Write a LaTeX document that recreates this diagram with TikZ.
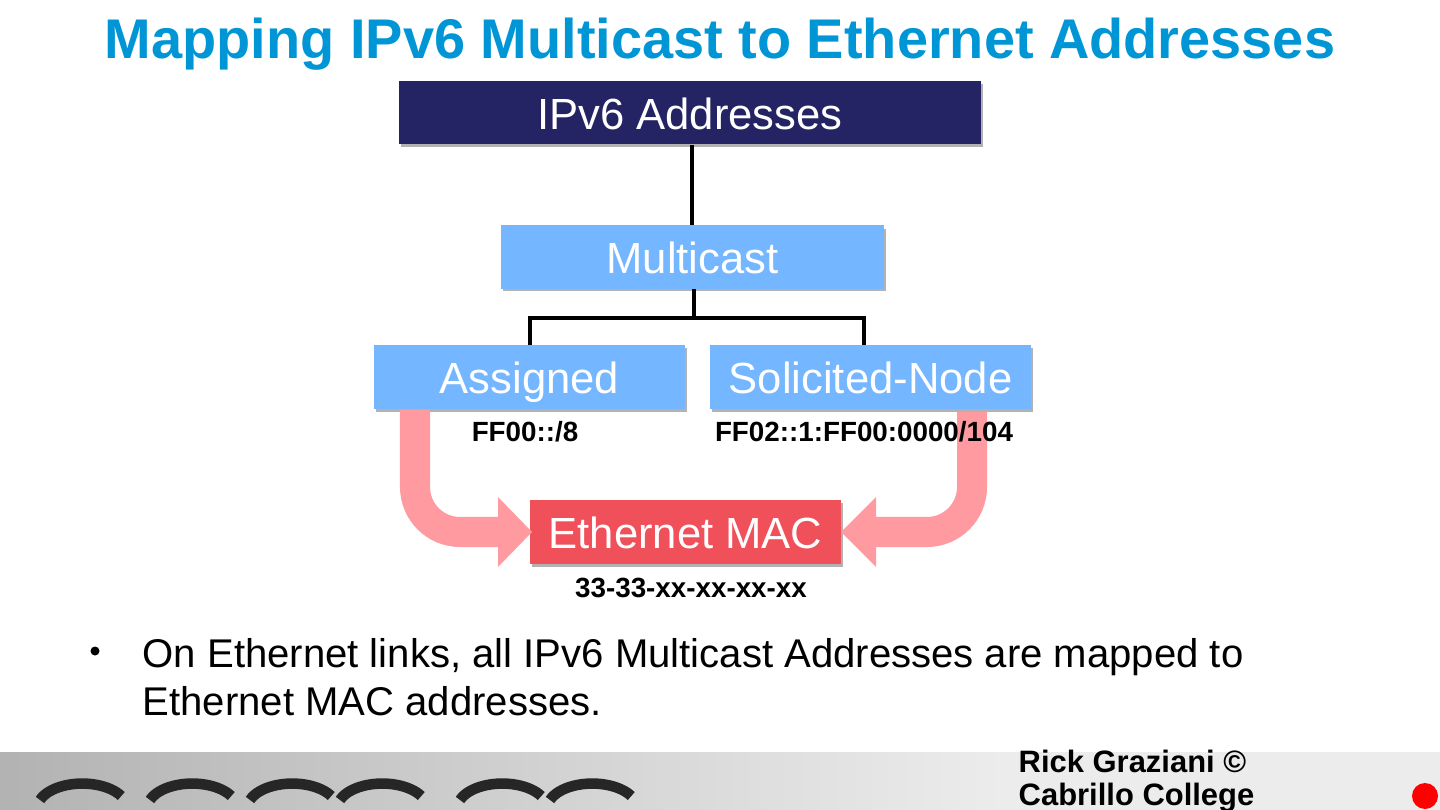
\documentclass[tikz,border=0pt]{standalone}
\usepackage{fontspec}
\setmainfont{Liberation Sans}
\definecolor{ttl}{RGB}{0,150,214}
\definecolor{navy}{RGB}{36,36,100}
\definecolor{lblue}{RGB}{116,182,255}
\definecolor{macred}{RGB}{240,80,90}
\definecolor{pinkarr}{RGB}{255,155,160}
\tikzset{
 box/.style={draw=none,minimum height=0.63cm,text=white,font=\fontsize{12.4}{14}\selectfont,inner sep=0pt,text height=10.6pt,text depth=1.2pt},
 lbl/.style={font=\bfseries\fontsize{7.9}{9}\selectfont},
 conn/.style={line width=1.2pt,black},
 band/.style={line width=0.3cm,pinkarr,rounded corners=0.45cm}
}
\begin{document}
\begin{tikzpicture}[x=0.01cm,y=-0.01cm]
\useasboundingbox (0,0) rectangle (1440,810);
\node[font=\bfseries\fontsize{15.9}{18}\selectfont,text=ttl] (title) at (720,44) {Mapping IPv6 Multicast to Ethernet Addresses};
% shadows
\fill[gray!60] (401,84) rectangle (983,147);
\fill[gray!60] (503,229) rectangle (886,291);
\fill[gray!60] (376,348) rectangle (687,412);
\fill[gray!60] (712,348) rectangle (1033,412);
\fill[gray!60] (532,503) rectangle (843,567);
\node[box,fill=navy,minimum width=5.82cm] (ipv6) at (690,112.5) {IPv6 Addresses};
\node[box,fill=lblue,minimum width=3.83cm] (mc) at (692.5,257) {Multicast};
\node[box,fill=lblue,minimum width=3.11cm] (as) at (529.5,377) {Assigned};
\node[box,fill=lblue,minimum width=3.21cm] (sn) at (870.5,377) {Solicited-Node};
\node[box,fill=macred,minimum width=3.11cm] (mac) at (685.5,532) {Ethernet MAC};
\draw[conn] (ipv6.south -| 692,0) -- (mc.north -| 692,0);
\coordinate (j) at (694,318);
\draw[conn] (mc.south -| 694,0) -- (j);
\draw[conn] (as.north -| 530,0) |- (j) -| (sn.north -| 864,0);
\node[lbl] (l1) at (525,432) {FF00::/8};
% pink arrows
\draw[band] (415,410) -- (415,532) -- (500,532);
\fill[pinkarr] (498,497) -- (532,532) -- (498,567) -- cycle;
\draw[band] (972,412) -- (972,532) -- (873,532);
\fill[pinkarr] (876,497) -- (841,532) -- (876,567) -- cycle;
\node[lbl] (l2) at (864,432) {FF02::1:FF00:0000/104};
\node[lbl] (l3) at (691,588) {33-33-xx-xx-xx-xx};
\node[font=\fontsize{11.4}{13.6}\selectfont,anchor=north west,align=left,inner sep=0pt] (b) at (142,638) {On Ethernet links, all IPv6 Multicast Addresses are mapped to\\Ethernet MAC addresses.};
\fill[black] (95,651) circle (4.5);
% bottom strip
\shade[left color=gray!60,right color=gray!15] (0,752) rectangle (1000,810);
\fill[gray!15] (1000,752) rectangle (1440,810);
\foreach \x in {40,150,250,340,460,550} \draw[gray!30!black,line width=3pt] (\x,800) arc (200:330:45 and 25);
\node[font=\bfseries\fontsize{8.8}{9.5}\selectfont,anchor=west,align=left,inner sep=0pt] (rg) at (1018,781) {Rick Graziani \textcopyright\\Cabrillo College};
\fill[red] (1425,796) circle (13);
\end{tikzpicture}
\end{document}
